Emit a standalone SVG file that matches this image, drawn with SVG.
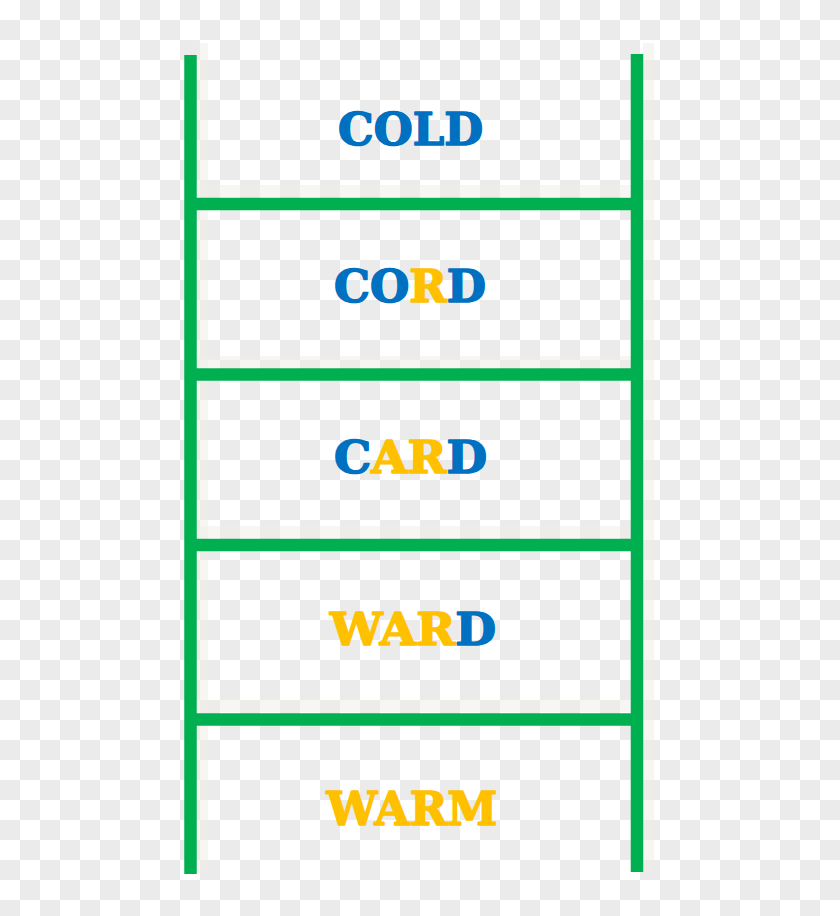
<svg xmlns="http://www.w3.org/2000/svg" width="840" height="916" viewBox="0 0 840 916">
<defs>
<pattern id="checker" x="0" y="0" width="40" height="40" patternUnits="userSpaceOnUse">
<rect x="0" y="0" width="40" height="40" fill="#ffffff"/>
<rect x="20" y="0" width="20" height="20" fill="#ebebeb"/>
<rect x="0" y="20" width="20" height="20" fill="#ebebeb"/>
</pattern>
<style>
.rail{stroke:#00b050;stroke-width:12.5;fill:none}
.ghost{fill:#efede6;opacity:0.5}
.word{font-family:"DejaVu Serif","Liberation Serif",serif;font-weight:bold;font-size:45px;stroke-width:1.6;stroke-linejoin:round}
.b{fill:#0070c0;stroke:#0070c0}
.y{fill:#ffc000;stroke:#ffc000}
</style>
</defs>
<rect width="840" height="916" fill="url(#checker)"/>
<g id="ghost">
<rect class="ghost" x="197" y="43" width="11" height="830"/>
<rect class="ghost" x="643" y="43" width="11" height="830"/>
<rect class="ghost" x="197" y="185" width="446" height="12"/>
<rect class="ghost" x="197" y="356" width="446" height="12"/>
<rect class="ghost" x="197" y="526" width="446" height="12"/>
<rect class="ghost" x="197" y="700" width="446" height="12"/>
</g>
<g id="connectors">
<line class="rail" x1="190.5" y1="55" x2="190.5" y2="874"/>
<line class="rail" x1="637" y1="54" x2="637" y2="872"/>
<line class="rail" x1="190" y1="204" x2="637" y2="204"/>
<line class="rail" x1="190" y1="374.5" x2="637" y2="374.5"/>
<line class="rail" x1="190" y1="545" x2="637" y2="545"/>
<line class="rail" x1="190" y1="719.5" x2="637" y2="719.5"/>
</g>
<g id="node-cold">
<text class="word b" x="338" y="145" textLength="145" lengthAdjust="spacingAndGlyphs">COLD</text>
</g>
<g id="node-cord">
<text class="word b" x="334" y="301.5" textLength="152" lengthAdjust="spacingAndGlyphs">CO<tspan class="y">R</tspan>D</text>
</g>
<g id="node-card">
<text class="word b" x="334" y="472.5" textLength="153" lengthAdjust="spacingAndGlyphs">C<tspan class="y">AR</tspan>D</text>
</g>
<g id="node-ward">
<text class="word y" x="330" y="645" textLength="166" lengthAdjust="spacingAndGlyphs">WAR<tspan class="b">D</tspan></text>
</g>
<g id="node-warm">
<text class="word y" x="326.5" y="825" textLength="171" lengthAdjust="spacingAndGlyphs" style="font-size:47px">WARM</text>
</g>
</svg>
